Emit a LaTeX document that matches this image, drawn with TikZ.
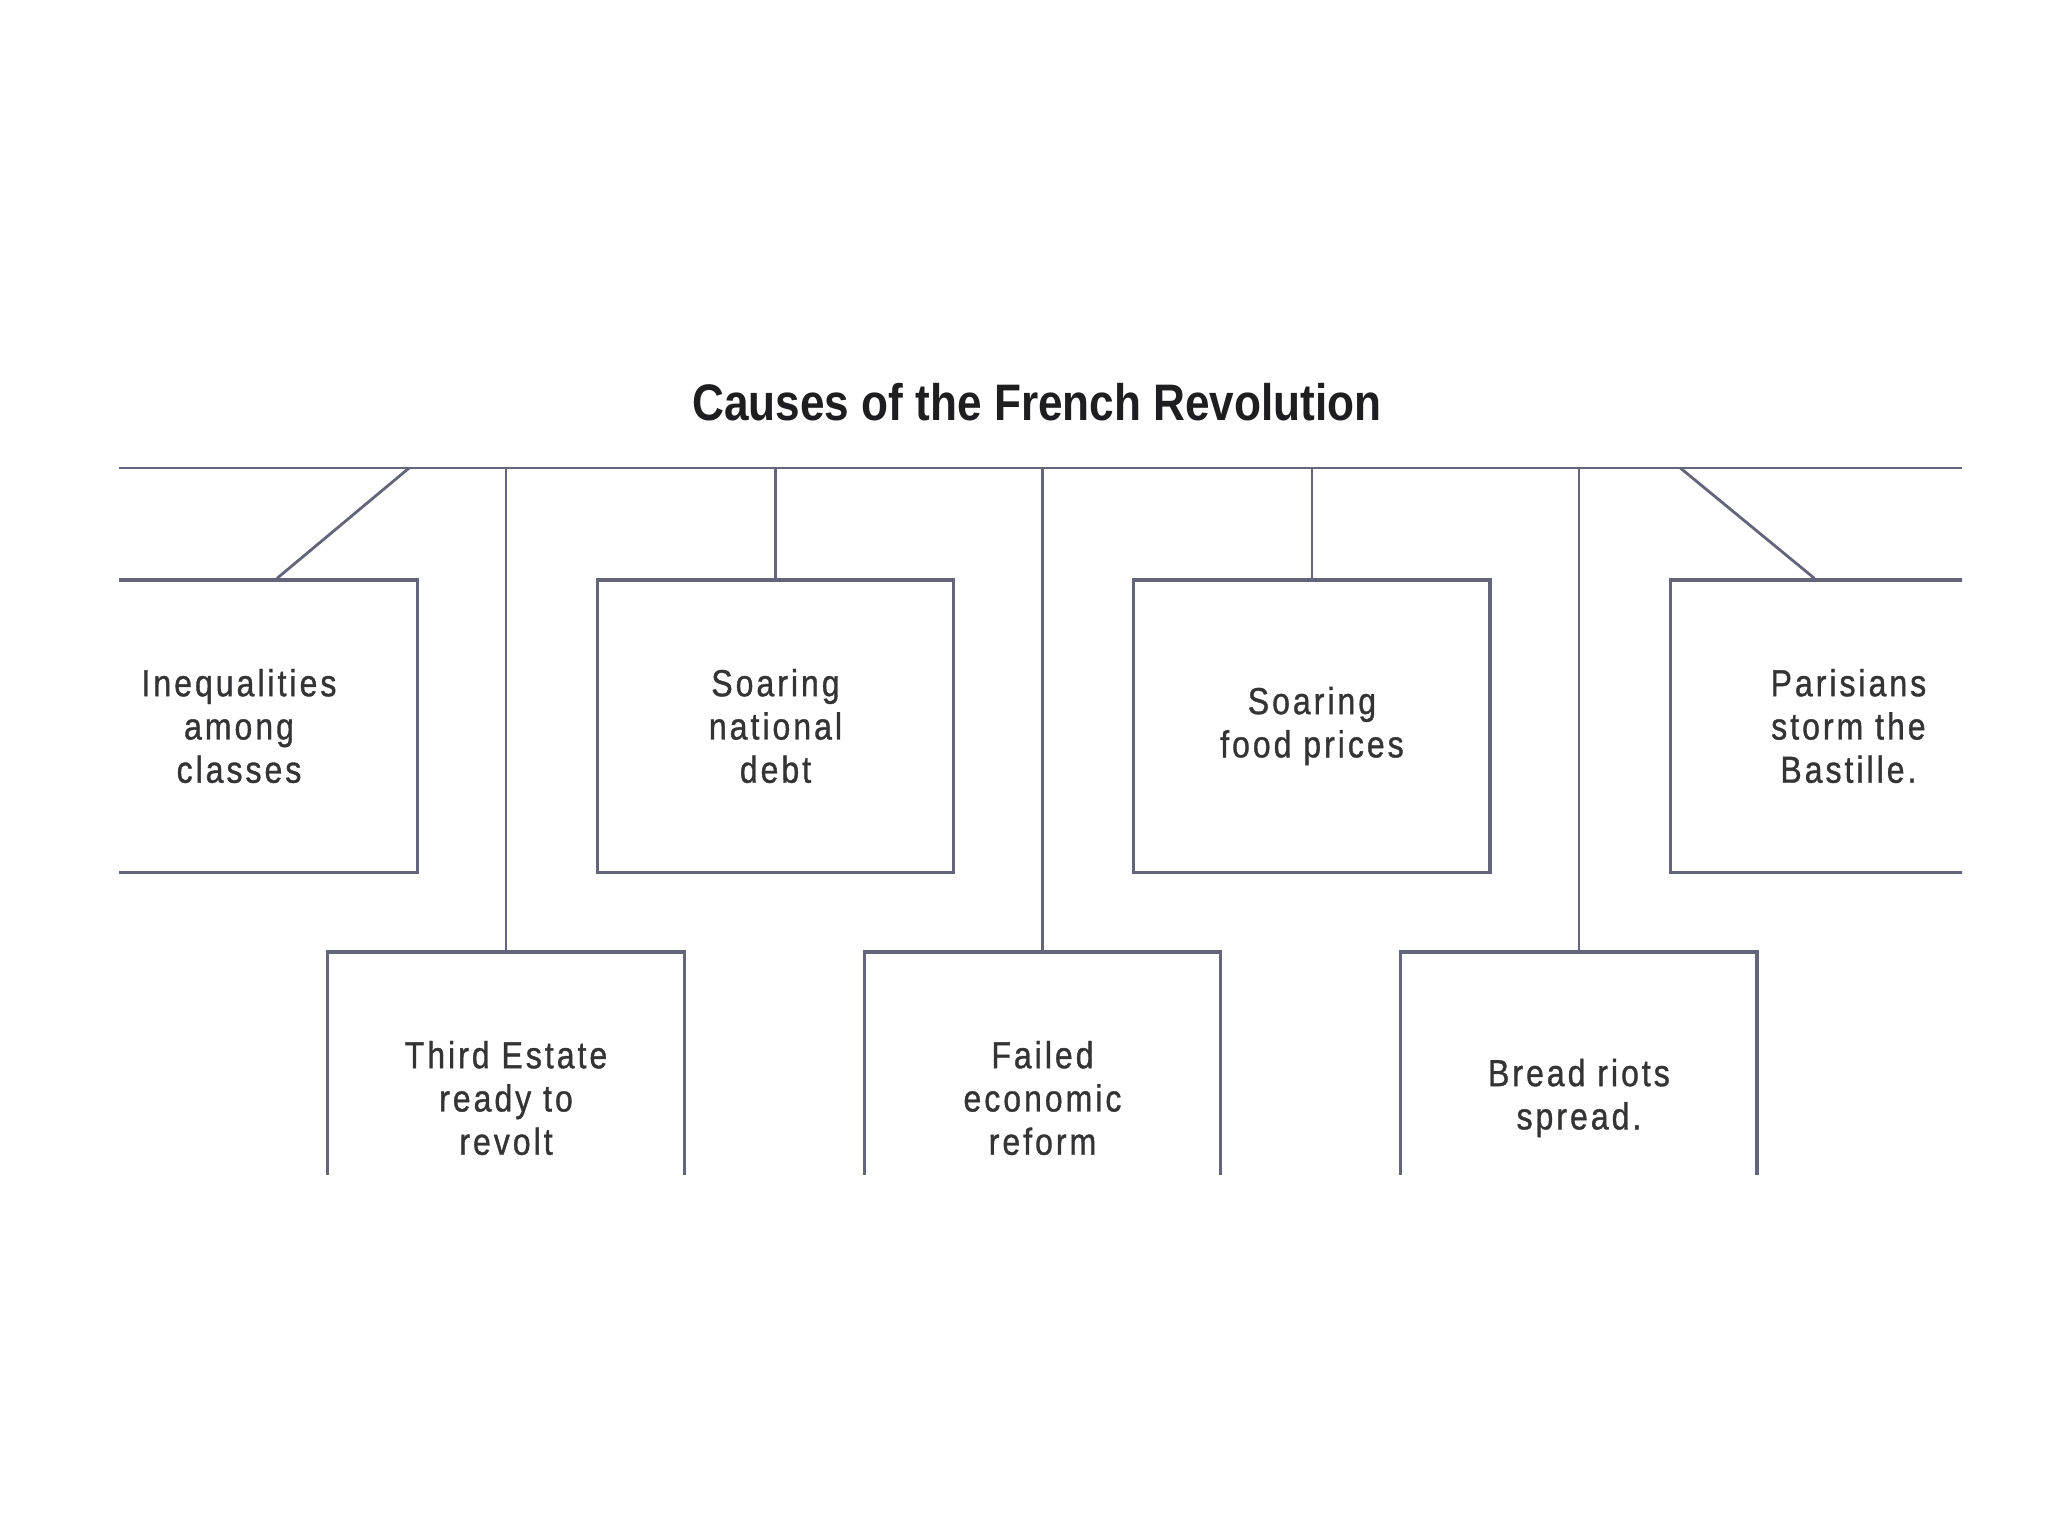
\documentclass[tikz,border=0pt]{standalone}
\usepackage{fontspec}
\newfontfamily\causefont{Liberation Sans}[FakeStretch=0.85,LetterSpace=8,FakeBold=1]
\newfontfamily\headfont{Liberation Sans}[FakeStretch=0.86]
\usetikzlibrary{positioning}
\definecolor{linea}{RGB}{100,100,122}
\definecolor{texto}{RGB}{52,52,54}
\definecolor{titulo}{RGB}{30,30,32}

\begin{document}
\begin{tikzpicture}[x=0.01cm,y=-0.01cm,
                    causa/.style={draw=linea,line width=0.9pt,minimum width=3.56cm,minimum height=2.92cm,inner sep=0pt,
                                  align=center,text=texto,font=\causefont\fontsize{10.7}{12.3}\selectfont},
                    enlace/.style={draw=linea,line width=0.8pt},
                    node distance=1.77cm]
  \useasboundingbox (0,0) rectangle (2048,1536);
  \node[anchor=base,text=titulo,font=\headfont\bfseries\fontsize{14.6}{16}\selectfont] (tit) at (1037,420) {Causes of the French Revolution};
  \begin{scope}
    \clip (119,0) rectangle (1962,1174);
    \coordinate (barraL) at (119,468);
    \coordinate (barraR) at (1962,468);
    \node[causa] (desig) at (239,726) {Inequalities\\among\\classes};
    \node[causa,right=of desig] (deuda) {Soaring\\national\\debt};
    \node[causa,right=of deuda] (precios) {Soaring\\food prices};
    \node[causa,right=of precios] (bastilla) {Parisians\\storm the\\Bastille.};
    \node[causa] (tercer) at (506,1098) {Third Estate\\ready to\\revolt};
    \node[causa,right=of tercer] (reforma) {Failed\\economic\\reform};
    \node[causa,right=of reforma] (pan) {Bread riots\\spread.};
    \draw[enlace] (barraL) -- (barraR);
    \draw[enlace] ([xshift=1.7cm]desig.north |- barraL) -- ([xshift=0.38cm]desig.north);
    \draw[enlace] ([xshift=-1.68cm]bastilla.north |- barraL) -- ([xshift=-0.34cm]bastilla.north);
    \foreach \n in {deuda,precios,tercer,reforma,pan}
      \draw[enlace] (\n.north |- barraL) -- (\n.north);
  \end{scope}
\end{tikzpicture}
\end{document}
